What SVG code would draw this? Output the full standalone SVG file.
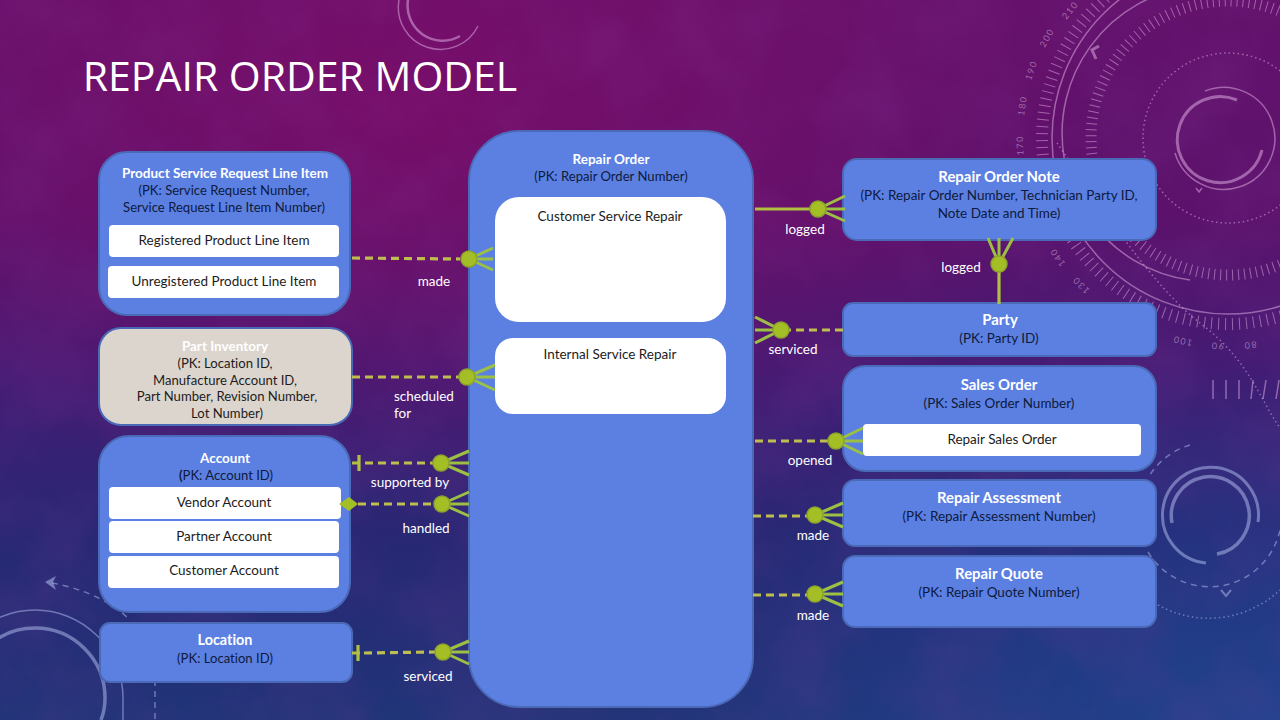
<svg xmlns="http://www.w3.org/2000/svg" width="1280" height="720" viewBox="0 0 1280 720">
<defs>
<linearGradient id="bg" x1="0" y1="0" x2="0" y2="1">
<stop offset="0" stop-color="#64126c"/><stop offset="0.3" stop-color="#5c126c"/><stop offset="0.52" stop-color="#421c74"/><stop offset="0.75" stop-color="#282874"/><stop offset="1" stop-color="#203478"/>
</linearGradient>
<radialGradient id="glow" cx="0.32" cy="0.14" r="0.55">
<stop offset="0" stop-color="#7e0c68" stop-opacity="0.75"/><stop offset="1" stop-color="#7e0c68" stop-opacity="0"/>
</radialGradient>
<radialGradient id="blue" cx="1" cy="1" r="0.5">
<stop offset="0" stop-color="#1f4c9c" stop-opacity="0.6"/><stop offset="1" stop-color="#1f4c9c" stop-opacity="0"/>
</radialGradient>
<filter id="noise" x="0" y="0" width="100%" height="100%">
<feTurbulence type="fractalNoise" baseFrequency="0.012" numOctaves="4" seed="7"/>
<feColorMatrix values="0 0 0 0 0.25  0 0 0 0 0.05  0 0 0 0 0.35  1.6 0 0 0 -0.55"/>
</filter>
<style>
text{font-family:"Lato","Liberation Sans",sans-serif;font-size:13.5px;text-anchor:middle;font-variant-ligatures:none}
.t{fill:#fff;font-weight:700}
.r{font-size:14.9px}
.s{fill:#0e1a3c}
.w{fill:#1c1c1c}
.k{font-size:13.1px}
.l{fill:#fff}
.n{fill:#5b80e2;stroke:#4a69b6;stroke-width:2}
.b{fill:#fff}
.c{fill:none;stroke:#b0c040;stroke-width:3.2}
.d{fill:none;stroke:#bdbd50;stroke-width:3.2;stroke-dasharray:8 5}
.f{fill:none;stroke:#9cc044;stroke-width:3}
.o{fill:#a4bf26;stroke:#8ea32c;stroke-width:1.5}
.a{fill:none;stroke:#d8a6dc;stroke-opacity:.55}
.e{fill:none;stroke:#a9b4e8;stroke-opacity:.55}
.g{font-size:9px;fill:#d8b6dc;fill-opacity:.55;letter-spacing:1.5px}
</style>
</defs>
<g id="background">
<rect width="1280" height="720" fill="url(#bg)"/>
<rect width="1280" height="720" fill="url(#glow)"/>
<rect width="1280" height="720" fill="url(#blue)"/>
<rect width="1280" height="720" filter="url(#noise)" opacity=".2"/>
<circle class="a" cx="1228" cy="138" r="176" stroke-width="1.5"/>
<path class="a" d="M1190 280A148 148 0 1 1 1257 -7" stroke-width="1.5"/>
<circle class="a" cx="1228" cy="138" r="186" stroke-width="12" stroke-dasharray="1 6" stroke-opacity=".28"/>
<circle class="a" cx="1228" cy="138" r="137" stroke-width="11" stroke-dasharray="1 5" stroke-opacity=".25"/>
<circle class="a" cx="1228" cy="138" r="85" stroke-width="1.5" stroke-dasharray="1.5 3"/>
<path class="a" d="M1237 100A43 43 0 1 0 1262 150" stroke-width="3"/>
<path class="a" d="M1175 153A51 51 0 1 0 1205 91" stroke-width="1.5"/>
<path class="a" d="M1099 46L1092 50L1096 59" stroke-width="3"/>
<path class="a" d="M1196 188L1199 192L1202 188" stroke-width="1.5"/>
<path class="a" d="M1057 143C1090 190 1150 285 1200 323S1260 400 1280 428" stroke-width="1.5" stroke-dasharray="1.5 3"/>
<text class="g" x="1228" y="-67" transform="rotate(192.7 1228 138)">100</text>
<text class="g" x="1228" y="-67" transform="rotate(183 1228 138)">90</text>
<text class="g" x="1228" y="-67" transform="rotate(174 1228 138)">80</text>
<text class="g" x="1228" y="-67" transform="rotate(225 1228 138)">130</text>
<text class="g" x="1228" y="-67" transform="rotate(235 1228 138)">140</text>
<text class="g" x="1228" y="-67" transform="rotate(268 1228 138)">170</text>
<text class="g" x="1228" y="-67" transform="rotate(279 1228 138)">180</text>
<text class="g" x="1228" y="-67" transform="rotate(289 1228 138)">190</text>
<text class="g" x="1228" y="-66" transform="rotate(299 1228 138)">200</text>
<text class="g" x="1228" y="-62" transform="rotate(309 1228 138)">210</text>
<path class="a" d="M1213 380V399M1226 380V399M1239 380V399M1253 380L1251 399M1266 380L1263 399M1279 380L1276 399" stroke-width="1.5"/>
<path class="e" d="M1258 522A48 48 0 1 0 1206 563" stroke-width="3"/>
<path class="e" d="M1172 523A39 39 0 1 1 1217 554" stroke-width="3.5"/>
<path class="e" d="M1190 445A72 72 0 0 0 1148 478M1148 552A72 72 0 0 0 1280 530" stroke-width="1.5" stroke-dasharray="6 5"/>
<path class="e" d="M1158 605A104 104 0 0 0 1280 590" stroke-width="1.5" stroke-dasharray="1.5 3"/>
<path class="e" d="M1221 590L1226 596L1231 590" stroke-width="2"/>
<path class="e" d="M-53 698A88 88 0 0 1 123 698V720" stroke-width="1.5"/>
<path class="e" d="M-35 698A70 70 0 0 1 105 698Q105 710 101 720" stroke-width="3.5"/>
<path class="e" d="M52 583C80 588 110 600 130 620" stroke-width="1.5" stroke-dasharray="6 5"/>
<path d="M45 582L56 576L53 582L56 590Z" fill="#a9b4e8" fill-opacity=".6"/>
<path class="e" d="M155 680V720" stroke-width="1.5" stroke-dasharray="6 5"/>
<text x="300" y="91" style="font-family:'Open Sans','Liberation Sans',sans-serif;font-size:41px;fill:#fff;text-anchor:middle">REPAIR ORDER MODEL</text>
<path class="a" d="M399 0A42 42 0 0 0 478 26" stroke-width="1.5"/>
<path class="a" d="M408 0A35 35 0 0 0 460 36" stroke-width="2.5"/>
</g>
<g id="psr"><rect class="n" x="99" y="152" width="251" height="163" rx="28"/>
<text class="t" x="225" y="178">Product Service Request Line Item</text><text class="s k" x="224" y="195">(PK: Service Request Number,</text><text class="s k" x="224" y="212">Service Request Line Item Number)</text>
<rect class="b" x="109" y="225" width="230" height="32" rx="4"/><text class="w" x="224" y="245">Registered Product Line Item</text>
<rect class="b" x="108" y="266" width="231" height="32" rx="4"/><text class="w" x="224" y="286">Unregistered Product Line Item</text></g>
<g id="part-inventory"><rect x="99" y="328" width="253" height="97" rx="22" fill="#dcd5ce" stroke="#4a69b6" stroke-width="2"/>
<text class="t" x="225" y="351">Part Inventory</text><text class="w k" x="225" y="368">(PK: Location ID,</text><text class="w k" x="225" y="385">Manufacture Account ID,</text><text class="w k" x="227" y="401">Part Number, Revision Number,</text><text class="w k" x="227" y="418">Lot Number)</text></g>
<g id="account"><rect class="n" x="99" y="436" width="251" height="176" rx="30"/>
<text class="t" x="225" y="463">Account</text><text class="s k" x="226" y="480"><tspan font-weight="700">(</tspan>PK: Account ID)</text>
<rect class="b" x="109" y="487" width="232" height="32" rx="4"/><text class="w" x="224" y="507">Vendor Account</text>
<rect class="b" x="109" y="521" width="230" height="32" rx="4"/><text class="w" x="224" y="541">Partner Account</text>
<rect class="b" x="108" y="556" width="231" height="32" rx="4"/><text class="w" x="224" y="575">Customer Account</text></g>
<g id="location"><rect class="n" x="100" y="623" width="252" height="59" rx="10"/>
<text class="t" x="225" y="645" style="font-size:14.4px">Location</text><text class="s k" x="225" y="663">(PK: Location ID)</text></g>
<g id="repair-order"><rect class="n" x="469" y="131" width="284" height="576" rx="50"/>
<text class="t" x="611" y="164">Repair Order</text><text class="s k" x="611" y="181">(PK: Repair Order Number)</text>
<rect class="b" x="495" y="197" width="231" height="125" rx="24"/><text class="w" x="610" y="221">Customer Service Repair</text>
<rect class="b" x="495" y="338" width="231" height="76" rx="18"/><text class="w" x="610" y="359">Internal Service Repair</text></g>
<g id="repair-order-note"><rect class="n" x="843" y="159" width="313" height="81" rx="14"/>
<text class="t r" x="999" y="182">Repair Order Note</text><text class="s" x="999" y="200">(PK: Repair Order Number, Technician Party ID,</text><text class="s" x="999" y="218">Note Date and Time)</text></g>
<g id="party"><rect class="n" x="843" y="303" width="313" height="53" rx="10"/>
<text class="t r" x="1000" y="325">Party</text><text class="s" x="999" y="343">(PK: Party ID)</text></g>
<g id="sales-order"><rect class="n" x="843" y="366" width="313" height="105" rx="22"/>
<text class="t r" x="999" y="390">Sales Order</text><text class="s" x="999" y="408">(PK: Sales Order Number)</text>
<rect class="b" x="863" y="424" width="278" height="32" rx="4"/><text class="w" x="1002" y="444">Repair Sales Order</text></g>
<g id="repair-assessment"><rect class="n" x="843" y="480" width="313" height="66" rx="12"/>
<text class="t r" x="999" y="503">Repair Assessment</text><text class="s" x="999" y="521">(PK: Repair Assessment Number)</text></g>
<g id="repair-quote"><rect class="n" x="843" y="556" width="313" height="71" rx="12"/>
<text class="t r" x="999" y="579">Repair Quote</text><text class="s" x="999" y="597">(PK: Repair Quote Number)</text></g>
<g id="connectors">
<path class="d" d="M352 258L460 259"/><path class="f" d="M469 259L493 248M469 259H493M469 259L493 270"/><circle class="o" cx="469" cy="259" r="8"/>
<path class="d" d="M352 377H459"/><path class="f" d="M467 377L495 365M467 377H495M467 377L495 390"/><circle class="o" cx="467" cy="377" r="8"/>
<path class="c" d="M352 463H360M359 455V471"/><path class="d" d="M365 463H433"/><path class="f" d="M441 463L469 451M441 463H469M441 463L469 475"/><circle class="o" cx="441" cy="463" r="8"/>
<path class="d" d="M358 504H434"/><path d="M339 504L349 497L358 504L349 511Z" fill="#a4bf26"/><path class="f" d="M442 504L469 492M442 504H469M442 504L469 516"/><circle class="o" cx="442" cy="504" r="8"/>
<path class="c" d="M352 653H360M358 645V661"/><path class="d" d="M364 653L435 652"/><path class="f" d="M443 652L469 641M443 652H469M443 652L469 664"/><circle class="o" cx="443" cy="652" r="8"/>
<path class="c" d="M755 209H810"/><path class="f" d="M818 209L845 196M818 209H845M818 209L845 221"/><circle class="o" cx="818" cy="209" r="8"/>
<path class="c" d="M999 304V272"/><path class="f" d="M999 264L988 238M999 264V238M999 264L1013 238"/><circle class="o" cx="999" cy="264" r="8"/>
<path class="d" d="M843 330H789"/><path class="f" d="M781 330L755 317M781 330H755M781 330L755 343"/><circle class="o" cx="781" cy="330" r="8"/>
<path class="d" d="M755 441H828"/><path class="f" d="M836 441L863 428M836 441H863M836 441L863 454"/><circle class="o" cx="836" cy="441" r="8"/>
<path class="d" d="M753 516H807"/><path class="f" d="M815 515L843 503M815 515H843M815 515L843 527"/><circle class="o" cx="815" cy="515" r="8"/>
<path class="d" d="M753 595H807"/><path class="f" d="M815 594L843 582M815 594H843M815 594L843 606"/><circle class="o" cx="815" cy="594" r="8"/>
</g>
<g id="labels">
<text class="l" x="434" y="286">made</text><text class="l" x="394" y="401" style="text-anchor:start">scheduled</text><text class="l" x="394" y="418" style="text-anchor:start">for</text>
<text class="l" x="410" y="487">supported by</text><text class="l" x="426" y="533">handled</text><text class="l" x="428" y="681">serviced</text>
<text class="l" x="805" y="234">logged</text><text class="l" x="961" y="272">logged</text><text class="l" x="793" y="354">serviced</text><text class="l" x="810" y="465">opened</text><text class="l" x="813" y="540">made</text><text class="l" x="813" y="620">made</text>
</g>
</svg>
